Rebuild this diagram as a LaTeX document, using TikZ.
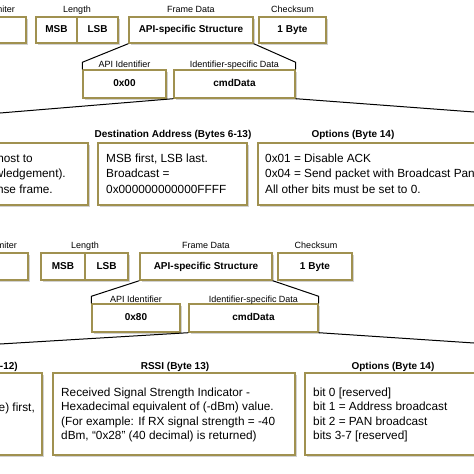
\documentclass[tikz,border=0pt]{standalone}
\usepackage{fontspec}
\setmainfont{Liberation Sans}
\usetikzlibrary{calc,shadows}
\definecolor{boxline}{RGB}{160,145,80}
\tikzset{
  fieldbox/.style={draw=boxline, line width=1.4pt, fill=white, inner sep=0pt,
    drop shadow={shadow xshift=2pt, shadow yshift=-2pt, fill=black!18, opacity=1},
    font=\fontsize{10}{12}\selectfont\bfseries, text height=7.2pt, text depth=2pt},
  tagtext/.style={font=\fontsize{9}{11}\selectfont, inner sep=0pt, anchor=base},
  headtext/.style={font=\fontsize{10}{12}\selectfont\bfseries, inner sep=0pt, anchor=base},
  bodytext/.style={font=\fontsize{11.8}{14}\selectfont, inner sep=0pt, anchor=base west},
  cuttext/.style={bodytext, anchor=base east},
  linkline/.style={line width=1pt, black},
}
\begin{document}
\begin{tikzpicture}[x=1pt,y=-1pt]
\useasboundingbox (0,0) rectangle (474,474);
\clip (0,0) rectangle (474,474);

% first frame
\node[fieldbox, minimum width=66pt, minimum height=26pt] (delimA) at (-7,30) {};
\node[fieldbox, minimum width=41pt, minimum height=26pt] (msbA) at (56.5,30) {MSB};
\node[fieldbox, minimum width=41pt, minimum height=26pt] (lsbA) at (97.5,30) {LSB};
\node[fieldbox, minimum width=124pt, minimum height=26pt] (apiA) at (191,30) {API-specific Structure};
\node[fieldbox, minimum width=67pt, minimum height=26pt] (sumA) at (292.5,30) {1 Byte};
\node[tagtext, anchor=base east] (delimAt) at (15,12) {Start Delimiter};
\node[tagtext] (lenAt) at (77,12) {Length};
\node[tagtext] (apiAt) at (191,12) {Frame Data};
\node[tagtext] (sumAt) at (292.5,12) {Checksum};

\node[fieldbox, minimum width=83pt, minimum height=28pt] (idA) at (124.5,84) {0x00};
\node[fieldbox, minimum width=121pt, minimum height=28pt] (cmdA) at (234.5,84) {cmdData};
\node[tagtext] (idAt) at (124.5,67) {API Identifier};
\node[tagtext] (cmdAt) at (234.5,67) {Identifier-specific Data};

\coordinate (kneeAl) at ($(idA.north west)+(0,-7)$);
\coordinate (kneeAr) at ($(cmdA.north east)+(0,-7)$);
\draw[linkline] (apiA.south west) -- (kneeAl) -- (idA.north west);
\draw[linkline] (apiA.south east) -- (kneeAr) -- (cmdA.north east);
\coordinate (outAl) at (0,113);
\coordinate (outAr) at (474,112);
\draw[linkline] (cmdA.south west) -- (outAl);
\draw[linkline] (cmdA.south east) -- (outAr);

\node[fieldbox, minimum width=288pt, minimum height=62pt] (fidA) at (-56,174) {};
\node[cuttext] (fidA1) at (33,162) {Identifies the UART data frame for the host to};
\node[cuttext] (fidA2) at (66,177.5) {correlate with a subsequent ACK (acknowledgement).};
\node[cuttext] (fidA3) at (53,193) {Setting Frame ID to ‘0’ will disable response frame.};

\node[headtext] (dstAt) at (173,137) {Destination Address (Bytes 6-13)};
\node[fieldbox, minimum width=149pt, minimum height=62pt] (dstA) at (172.5,174) {};
\node[bodytext] (dstA1) at (106,162) {MSB first, LSB last.};
\node[bodytext] (dstA2) at (106,177.5) {Broadcast =};
\node[bodytext] (dstA3) at (106,193) {0x000000000000FFFF};

\node[headtext] (optAt) at (353,137) {Options (Byte 14)};
\node[fieldbox, minimum width=242pt, minimum height=62pt] (optA) at (379,174) {};
\node[bodytext] (optA1) at (265,162) {0x01 = Disable ACK};
\node[bodytext] (optA2) at (265,177.5) {0x04 = Send packet with Broadcast Pan ID};
\node[bodytext] (optA3) at (265,193) {All other bits must be set to 0.};

% second frame
\node[fieldbox, minimum width=68pt, minimum height=27pt] (delimB) at (-6,266.5) {};
\node[fieldbox, minimum width=44pt, minimum height=27pt] (msbB) at (63,266.5) {MSB};
\node[fieldbox, minimum width=43pt, minimum height=27pt] (lsbB) at (106.5,266.5) {LSB};
\node[fieldbox, minimum width=132pt, minimum height=27pt] (apiB) at (206,266.5) {API-specific Structure};
\node[fieldbox, minimum width=74pt, minimum height=27pt] (sumB) at (315,266.5) {1 Byte};
\node[tagtext, anchor=base east] (delimBt) at (17,248) {Start Delimiter};
\node[tagtext] (lenBt) at (85,248) {Length};
\node[tagtext] (apiBt) at (206,248) {Frame Data};
\node[tagtext] (sumBt) at (316,248) {Checksum};

\node[fieldbox, minimum width=88pt, minimum height=28pt] (idB) at (136,318) {0x80};
\node[fieldbox, minimum width=129pt, minimum height=28pt] (cmdB) at (253.5,318) {cmdData};
\node[tagtext] (idBt) at (136,302) {API Identifier};
\node[tagtext] (cmdBt) at (253.5,302) {Identifier-specific Data};

\coordinate (kneeBl) at ($(idB.north west)+(0,-7)$);
\coordinate (kneeBr) at ($(cmdB.north east)+(0,-7)$);
\draw[linkline] (apiB.south west) -- (kneeBl) -- (idB.north west);
\draw[linkline] (apiB.south east) -- (kneeBr) -- (cmdB.north east);
\coordinate (outBl) at (0,344);
\coordinate (outBr) at (474,343);
\draw[linkline] (cmdB.south west) -- (outBl);
\draw[linkline] (cmdB.south east) -- (outBr);

\node[headtext, anchor=base east] (srcBt) at (18,369) {Source Address (Bytes 5-12)};
\node[fieldbox, minimum width=242pt, minimum height=82pt] (srcB) at (-79,414) {};
\node[cuttext] (srcB2) at (35,411) {MSB (most significant byte) first,};

\node[headtext] (rssiBt) at (175,369) {RSSI (Byte 13)};
\node[fieldbox, minimum width=242pt, minimum height=82pt] (rssiB) at (174,414) {};
\node[bodytext] (rssiB1) at (61,396) {Received Signal Strength Indicator -};
\node[bodytext] (rssiB2) at (61,410.5) {Hexadecimal equivalent of (-dBm) value.};
\node[bodytext] (rssiB3) at (61,425) {(For example: If RX signal strength = -40};
\node[bodytext] (rssiB4) at (61,439.5) {dBm, “0x28” (40 decimal) is returned)};

\node[headtext] (optBt) at (393,369) {Options (Byte 14)};
\node[fieldbox, minimum width=215pt, minimum height=82pt] (optB) at (412.5,414) {};
\node[bodytext] (optB1) at (313,396) {bit 0 [reserved]};
\node[bodytext] (optB2) at (313,410.5) {bit 1 = Address broadcast};
\node[bodytext] (optB3) at (313,425) {bit 2 = PAN broadcast};
\node[bodytext] (optB4) at (313,439.5) {bits 3-7 [reserved]};
\end{tikzpicture}
\end{document}
